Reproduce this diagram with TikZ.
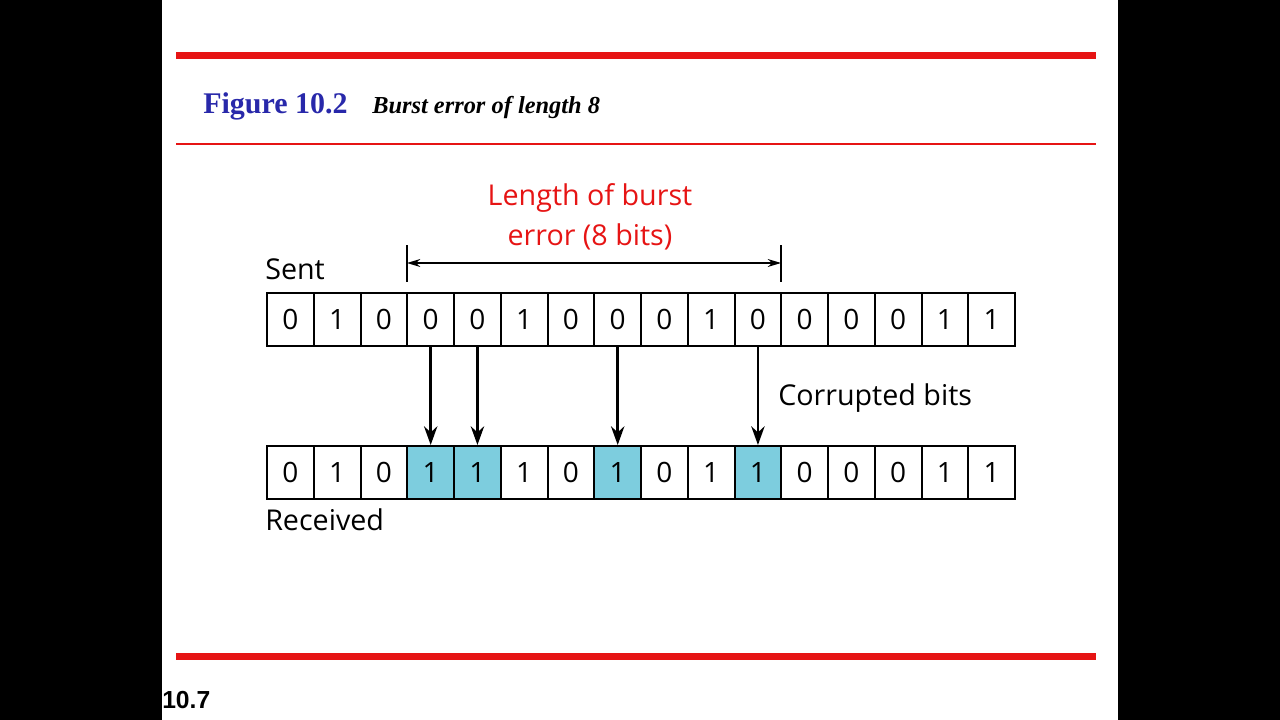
\documentclass[tikz,border=0pt]{standalone}
\usepackage{fontspec}
\setmainfont{Liberation Serif}
\newfontfamily\sansf{Open Sans}
\newfontfamily\arialf{Liberation Sans}
\usetikzlibrary{arrows.meta}
\definecolor{slidered}{RGB}{230,20,20}
\definecolor{titleblue}{RGB}{40,40,170}
\definecolor{hl}{RGB}{125,205,222}
\tikzset{cellbox/.style={draw,line width=1.6pt,minimum width=46.75*0.75pt,minimum height=53*0.75pt,inner sep=0pt,font=\sansf\fontsize{21}{22}\selectfont,anchor=north west},
lbl/.style={font=\sansf\fontsize{21.5}{24}\selectfont,inner sep=0pt},
flip/.style={-{Stealth[length=14pt,width=10pt]},line width=2pt}}
\begin{document}
\begin{tikzpicture}[x=0.75pt,y=-0.75pt]
\useasboundingbox (0,0) rectangle (1280,720);
\fill[black] (0,0) rectangle (162,720);
\fill[black] (1118,0) rectangle (1280,720);
\fill[slidered] (176,52) rectangle (1096,59);
\fill[slidered] (176,653) rectangle (1096,660);
\draw[slidered,line width=1.5pt] (176,144) -- (1096,144);
\node[anchor=base west,inner sep=0pt,text=titleblue,font=\bfseries\fontsize{22.5}{24}\selectfont] (ft) at (203,114) {Figure 10.2};
\node[anchor=base west,inner sep=0pt,font=\bfseries\itshape\fontsize{18.3}{20}\selectfont] (fs) at (372,114) {Burst error of length 8};
\node[anchor=base west,inner sep=0pt,font=\arialf\bfseries\fontsize{18.5}{20}\selectfont] (pg) at (162,708) {10.7};
\foreach \b [count=\i from 0] in {0,1,0,0,0,1,0,0,0,1,0,0,0,0,1,1}
  \node[cellbox] (s\i) at (266+\i*46.75,292) {\b};
\foreach \b/\h [count=\i from 0] in {0/white,1/white,0/white,1/hl,1/hl,1/white,0/white,1/hl,0/white,1/white,1/hl,0/white,0/white,0/white,1/white,1/white}
  \node[cellbox,fill=\h] (r\i) at (266+\i*46.75,445) {\b};
\foreach \i in {3,4,7,10} \draw[flip] (s\i.south) -- (r\i.north);
\node[lbl,anchor=base west] (sent) at (265,279) {Sent};
\node[lbl,anchor=base west] (recv) at (265,530) {Received};
\node[lbl,anchor=base west] (corr) at (778,405) {Corrupted bits};
\node[lbl,text=slidered,align=center,anchor=base] (len) at (590,246) {Length of burst\\[6pt]error (8 bits)};
\coordinate (da) at (407,263);
\coordinate (db) at (781,263);
\draw[line width=0.9pt] (407,245) -- (407,282);
\draw[line width=0.9pt] (781,245) -- (781,282);
\draw[{Stealth[length=10pt,width=6pt]}-{Stealth[length=10pt,width=6pt]},line width=0.9pt] (da) -- (db);
\end{tikzpicture}
\end{document}
